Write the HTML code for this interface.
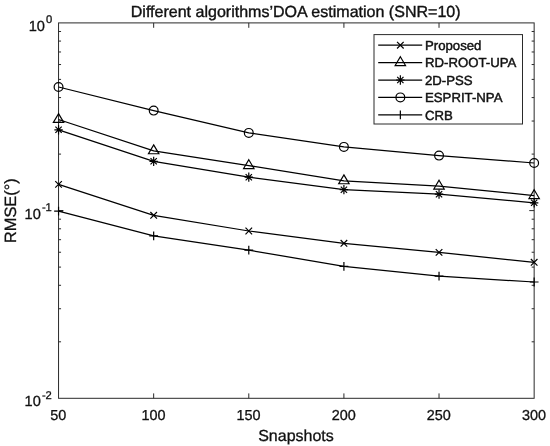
<!DOCTYPE html><html><head><meta charset="utf-8"><title>plot</title><style>html,body{margin:0;padding:0;background:#fff}svg{display:block}text{fill:#111;stroke:#111;stroke-width:.3px}text.lg{stroke-width:.45px}text.tl{stroke-width:.38px}</style></head><body><svg width="550" height="446" viewBox="0 0 550 446" font-family="Liberation Sans, Arial, Helvetica, sans-serif" text-rendering="geometricPrecision">
<rect width="550" height="446" fill="#fff"/>
<rect x="58.55" y="22.9" width="475.59999999999997" height="375.40000000000003" fill="none" stroke="#2a2a2a" stroke-width="1"/>
<path d="M153.67 398.3V393.40000000000003M153.67 22.9V27.799999999999997M248.79 398.3V393.40000000000003M248.79 22.9V27.799999999999997M343.91 398.3V393.40000000000003M343.91 22.9V27.799999999999997M439.03 398.3V393.40000000000003M439.03 22.9V27.799999999999997M58.55 210.60h4.9M534.15 210.60h-4.9M58.55 154.10h2.5M534.15 154.10h-2.5M58.55 121.04h2.5M534.15 121.04h-2.5M58.55 97.59h2.5M534.15 97.59h-2.5M58.55 79.40h2.5M534.15 79.40h-2.5M58.55 64.54h2.5M534.15 64.54h-2.5M58.55 51.98h2.5M534.15 51.98h-2.5M58.55 41.09h2.5M534.15 41.09h-2.5M58.55 31.49h2.5M534.15 31.49h-2.5M58.55 341.80h2.5M534.15 341.80h-2.5M58.55 308.74h2.5M534.15 308.74h-2.5M58.55 285.29h2.5M534.15 285.29h-2.5M58.55 267.10h2.5M534.15 267.10h-2.5M58.55 252.24h2.5M534.15 252.24h-2.5M58.55 239.68h2.5M534.15 239.68h-2.5M58.55 228.79h2.5M534.15 228.79h-2.5M58.55 219.19h2.5M534.15 219.19h-2.5" fill="none" stroke="#2a2a2a" stroke-width="1"/>
<polyline points="58.55,87.00 153.67,110.60 248.79,132.90 343.91,146.90 439.03,155.60 534.15,163.00" fill="none" stroke="#000" stroke-width="1.25"/>
<circle cx="58.55" cy="87.00" r="4.4" fill="none" stroke="#000" stroke-width="1.2"/>
<circle cx="153.67" cy="110.60" r="4.4" fill="none" stroke="#000" stroke-width="1.2"/>
<circle cx="248.79" cy="132.90" r="4.4" fill="none" stroke="#000" stroke-width="1.2"/>
<circle cx="343.91" cy="146.90" r="4.4" fill="none" stroke="#000" stroke-width="1.2"/>
<circle cx="439.03" cy="155.60" r="4.4" fill="none" stroke="#000" stroke-width="1.2"/>
<circle cx="534.15" cy="163.00" r="4.4" fill="none" stroke="#000" stroke-width="1.2"/>
<polyline points="58.55,119.50 153.67,150.80 248.79,165.60 343.91,180.80 439.03,186.10 534.15,195.60" fill="none" stroke="#000" stroke-width="1.25"/>
<path d="M58.55 113.60L63.75 122.45L53.35 122.45Z" fill="none" stroke="#000" stroke-width="1.2" stroke-linejoin="miter"/>
<path d="M153.67 144.90L158.87 153.75L148.47 153.75Z" fill="none" stroke="#000" stroke-width="1.2" stroke-linejoin="miter"/>
<path d="M248.79 159.70L253.99 168.55L243.59 168.55Z" fill="none" stroke="#000" stroke-width="1.2" stroke-linejoin="miter"/>
<path d="M343.91 174.90L349.11 183.75L338.71 183.75Z" fill="none" stroke="#000" stroke-width="1.2" stroke-linejoin="miter"/>
<path d="M439.03 180.20L444.23 189.05L433.83 189.05Z" fill="none" stroke="#000" stroke-width="1.2" stroke-linejoin="miter"/>
<path d="M534.15 189.70L539.35 198.55L528.95 198.55Z" fill="none" stroke="#000" stroke-width="1.2" stroke-linejoin="miter"/>
<polyline points="58.55,129.80 153.67,161.30 248.79,177.20 343.91,189.70 439.03,194.20 534.15,202.80" fill="none" stroke="#000" stroke-width="1.25"/>
<path d="M54.35 129.80H62.75M58.55 125.15V134.45M55.40 126.65L61.70 132.95M55.40 132.95L61.70 126.65" fill="none" stroke="#000" stroke-width="1.2"/>
<path d="M149.47 161.30H157.87M153.67 156.65V165.95M150.52 158.15L156.82 164.45M150.52 164.45L156.82 158.15" fill="none" stroke="#000" stroke-width="1.2"/>
<path d="M244.59 177.20H252.99M248.79 172.55V181.85M245.64 174.05L251.94 180.35M245.64 180.35L251.94 174.05" fill="none" stroke="#000" stroke-width="1.2"/>
<path d="M339.71 189.70H348.11M343.91 185.05V194.35M340.76 186.55L347.06 192.85M340.76 192.85L347.06 186.55" fill="none" stroke="#000" stroke-width="1.2"/>
<path d="M434.83 194.20H443.23M439.03 189.55V198.85M435.88 191.05L442.18 197.35M435.88 197.35L442.18 191.05" fill="none" stroke="#000" stroke-width="1.2"/>
<path d="M529.95 202.80H538.35M534.15 198.15V207.45M531.00 199.65L537.30 205.95M531.00 205.95L537.30 199.65" fill="none" stroke="#000" stroke-width="1.2"/>
<polyline points="58.55,184.40 153.67,215.30 248.79,231.00 343.91,243.30 439.03,252.40 534.15,262.30" fill="none" stroke="#000" stroke-width="1.25"/>
<path d="M55.25 181.10L61.85 187.70M55.25 187.70L61.85 181.10" fill="none" stroke="#000" stroke-width="1.2"/>
<path d="M150.37 212.00L156.97 218.60M150.37 218.60L156.97 212.00" fill="none" stroke="#000" stroke-width="1.2"/>
<path d="M245.49 227.70L252.09 234.30M245.49 234.30L252.09 227.70" fill="none" stroke="#000" stroke-width="1.2"/>
<path d="M340.61 240.00L347.21 246.60M340.61 246.60L347.21 240.00" fill="none" stroke="#000" stroke-width="1.2"/>
<path d="M435.73 249.10L442.33 255.70M435.73 255.70L442.33 249.10" fill="none" stroke="#000" stroke-width="1.2"/>
<path d="M530.85 259.00L537.45 265.60M530.85 265.60L537.45 259.00" fill="none" stroke="#000" stroke-width="1.2"/>
<polyline points="58.55,211.10 153.67,235.90 248.79,250.20 343.91,266.30 439.03,276.10 534.15,282.00" fill="none" stroke="#000" stroke-width="1.25"/>
<path d="M54.15 211.10H62.95M58.55 206.70V215.50" fill="none" stroke="#000" stroke-width="1.2"/>
<path d="M149.27 235.90H158.07M153.67 231.50V240.30" fill="none" stroke="#000" stroke-width="1.2"/>
<path d="M244.39 250.20H253.19M248.79 245.80V254.60" fill="none" stroke="#000" stroke-width="1.2"/>
<path d="M339.51 266.30H348.31M343.91 261.90V270.70" fill="none" stroke="#000" stroke-width="1.2"/>
<path d="M434.63 276.10H443.43M439.03 271.70V280.50" fill="none" stroke="#000" stroke-width="1.2"/>
<path d="M529.75 282.00H538.55M534.15 277.60V286.40" fill="none" stroke="#000" stroke-width="1.2"/>
<text x="58.35" y="419.7" font-size="14.45" text-anchor="middle">50</text>
<text x="153.47" y="419.7" font-size="14.45" text-anchor="middle">100</text>
<text x="248.59" y="419.7" font-size="14.45" text-anchor="middle">150</text>
<text x="343.71" y="419.7" font-size="14.45" text-anchor="middle">200</text>
<text x="438.83" y="419.7" font-size="14.45" text-anchor="middle">250</text>
<text x="533.95" y="419.7" font-size="14.45" text-anchor="middle">300</text>
<text x="44.92" y="30.95" font-size="14.6" text-anchor="end">10</text>
<text x="46.02" y="23.35" font-size="11.2">0</text>
<text x="40.79" y="218.65" font-size="14.6" text-anchor="end">10</text>
<text x="41.89" y="211.05" font-size="11.2">-1</text>
<text x="40.79" y="406.35" font-size="14.6" text-anchor="end">10</text>
<text x="41.89" y="398.75" font-size="11.2">-2</text>
<text x="295.7" y="17.1" font-size="16.05" class="tl" text-anchor="middle">Different algorithms’DOA estimation (SNR=10)</text>
<text x="296" y="441" font-size="16" text-anchor="middle">Snapshots</text>
<text transform="translate(16.3 210.7) rotate(-90)" font-size="16.35" text-anchor="middle">RMSE(°)</text>
<rect x="374.0" y="34.6" width="148.5" height="89.4" fill="#fff" stroke="#2a2a2a" stroke-width="1"/>
<path d="M378.2 45.2H422.2" stroke="#000" stroke-width="1.25" fill="none"/>
<path d="M397.05 41.90L403.65 48.50M397.05 48.50L403.65 41.90" fill="none" stroke="#000" stroke-width="1.2"/>
<text x="425.0" y="50.00" font-size="13.2" class="lg">Proposed</text>
<path d="M378.2 62.6H422.2" stroke="#000" stroke-width="1.25" fill="none"/>
<path d="M400.35 56.70L405.55 65.55L395.15 65.55Z" fill="none" stroke="#000" stroke-width="1.2" stroke-linejoin="miter"/>
<text x="425.0" y="67.40" font-size="13.2" class="lg">RD-ROOT-UPA</text>
<path d="M378.2 80.0H422.2" stroke="#000" stroke-width="1.25" fill="none"/>
<path d="M396.15 80.00H404.55M400.35 75.35V84.65M397.20 76.85L403.50 83.15M397.20 83.15L403.50 76.85" fill="none" stroke="#000" stroke-width="1.2"/>
<text x="425.0" y="84.80" font-size="13.2" class="lg">2D-PSS</text>
<path d="M378.2 97.4H422.2" stroke="#000" stroke-width="1.25" fill="none"/>
<circle cx="400.35" cy="97.40" r="4.4" fill="none" stroke="#000" stroke-width="1.2"/>
<text x="425.0" y="102.20" font-size="13.2" class="lg">ESPRIT-NPA</text>
<path d="M378.2 114.8H422.2" stroke="#000" stroke-width="1.25" fill="none"/>
<path d="M400.35 110.40V119.20" fill="none" stroke="#000" stroke-width="1.2"/>
<text x="425.0" y="119.60" font-size="13.2" class="lg">CRB</text>
</svg></body></html>
